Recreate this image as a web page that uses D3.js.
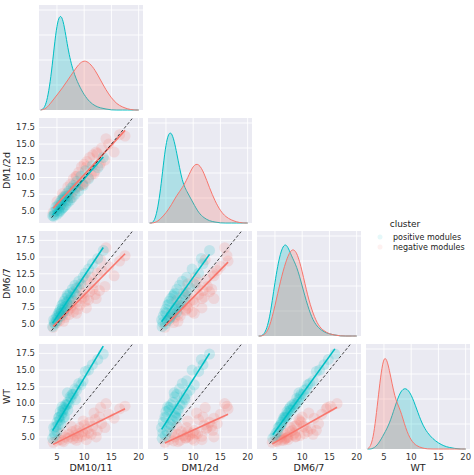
<!DOCTYPE html><html><head><meta charset="utf-8">
<script src="https://cdn.jsdelivr.net/npm/d3@7"></script>
<style>body{margin:0;background:#fff}svg{font-family:"DejaVu Sans",sans-serif}</style></head><body>
<svg id="c" width="474" height="475"></svg>
<script>
const vars=["DM10/11","DM1/2d","DM6/7","WT"];
const clusters=["positive modules","negative modules"];
const colors=["#00BFC4","#F8766D"];
const ticks=[5,10,15,20];
const yticks=[5.0,7.5,10.0,12.5,15.0,17.5];
// points: [DM10/11, DM1/2d, DM6/7, WT]
const positive=[[4.2,4.3,4.6,4.8],[4.5,4.4,5.2,5.6],[4.8,5.6,5.8,6.5],[5.0,4.5,6.2,7.2],[5.2,5.8,6.0,6.8],[5.4,4.8,6.8,8.0],[5.5,6.2,6.5,7.5],[5.6,5.0,7.2,8.8],[5.8,6.6,7.0,8.2],[5.9,5.3,7.8,9.5],[6.0,6.8,7.4,8.6],[6.1,5.5,8.0,9.0],[6.2,7.0,6.8,7.8],[6.3,5.6,8.4,9.4],[6.5,7.2,7.6,9.2],[6.6,5.9,8.8,9.8],[6.8,7.6,8.2,9.8],[7.0,6.3,9.2,10.2],[7.2,8.0,8.6,10.0],[7.4,6.6,9.6,11.0],[7.6,8.4,9.0,10.8],[7.8,7.0,10.2,11.4],[8.0,8.8,9.8,11.4],[8.3,7.5,10.8,12.2],[8.6,9.4,10.4,12.0],[9.0,8.0,11.4,13.0],[9.4,10.2,11.0,12.8],[9.8,8.8,12.0,13.4],[10.2,11.0,12.6,14.8],[10.8,9.8,13.2,15.0],[11.5,11.8,14.0,15.8],[12.5,11.5,14.8,16.6],[5.0,5.2,5.5,5.8],[5.7,5.9,6.2,6.9],[6.4,6.8,7.2,8.0],[4.6,4.9,5.0,5.2],[7.0,7.3,7.8,9.0],[5.3,5.0,6.6,7.9],[8.4,8.5,9.4,10.6],[6.9,6.5,9.4,11.6],[13.5,13.0,16.0,17.4],[4.4,4.2,5.6,6.4]];
const negative=[[4.3,4.8,4.5,4.2],[5.0,6.4,5.2,4.4],[5.5,5.6,5.5,4.6],[6.0,7.6,6.2,4.5],[6.5,6.6,6.0,5.0],[7.0,8.6,7.0,4.8],[7.2,7.2,6.4,5.4],[7.5,9.0,7.4,5.0],[7.8,7.8,7.8,5.8],[8.0,9.8,6.8,4.7],[8.3,8.2,9.6,5.2],[8.5,10.2,8.2,6.0],[8.8,8.6,7.2,4.9],[9.0,10.8,10.4,5.5],[9.2,8.8,7.8,6.4],[9.5,11.6,8.8,5.1],[9.7,9.0,11.0,5.8],[10.0,12.0,9.0,6.8],[10.2,9.4,8.4,5.3],[10.5,12.4,11.6,6.2],[10.8,10.0,8.6,5.6],[11.0,13.0,9.8,7.2],[11.3,10.4,12.0,5.4],[11.6,13.4,10.2,6.6],[12.0,11.0,9.4,7.6],[12.4,13.6,12.6,6.0],[12.8,11.8,10.0,8.0],[13.2,14.4,13.0,7.0],[13.8,12.6,10.6,6.4],[14.5,15.0,13.6,8.4],[15.5,13.8,12.2,7.8],[16.5,16.4,14.4,9.2],[6.2,7.2,5.4,4.3],[9.8,9.0,9.6,7.4],[11.8,10.6,11.2,8.6],[8.6,10.2,6.6,4.5],[7.6,7.0,8.6,6.6],[12.2,13.8,8.8,5.0],[10.4,11.6,7.4,4.6],[5.8,6.0,6.6,5.6],[17.5,16.2,15.2,9.6],[14.0,15.8,16.4,10.0],[13.0,12.2,14.6,9.4]];
// diagonal densities, x = 2..20
const kdeX=[2,3,4,5,6,7,8,9,10,11,12,13,14,15,16,17,18,19,20];
const kdePos=[[0,0.02,0.35,0.92,0.98,0.6,0.38,0.25,0.15,0.08,0.04,0.02,0.01,0,0,0,0,0,0],[0,0,0.3,0.85,0.95,0.7,0.4,0.3,0.2,0.1,0.05,0.02,0.01,0,0,0,0,0,0],[0,0,0.15,0.55,0.85,0.95,0.8,0.7,0.5,0.3,0.15,0.08,0.04,0.02,0.01,0,0,0,0],[0,0,0.05,0.15,0.25,0.42,0.58,0.62,0.55,0.4,0.25,0.16,0.1,0.06,0.03,0.015,0.005,0,0]];
const kdeNeg=[[0,0.01,0.08,0.15,0.22,0.3,0.38,0.46,0.5,0.47,0.4,0.3,0.2,0.12,0.06,0.03,0.01,0,0],[0,0,0.04,0.1,0.18,0.28,0.35,0.45,0.58,0.6,0.5,0.35,0.22,0.12,0.06,0.03,0.01,0,0],[0,0,0.08,0.3,0.55,0.75,0.88,0.85,0.65,0.4,0.22,0.1,0.05,0.02,0.01,0,0,0,0],[0,0.05,0.55,1.0,0.8,0.5,0.4,0.2,0.08,0.03,0.01,0,0,0,0,0,0,0,0]];
const data=[positive,negative];
const svg=d3.select("#c");
const W=104,H=105,x0=39,y0=5,dx=109,dy=113;
const xDom=[1.7,20.8],yDom=[3.2,18.9];
function cell(i,j){return svg.append("g").attr("transform",`translate(${x0+i*dx},${y0+j*dy})`);}
const xs=d3.scaleLinear().domain(xDom).range([0,W]);
const ys=d3.scaleLinear().domain(yDom).range([H,0]);
function bg(g){g.append("rect").attr("width",W).attr("height",H).attr("fill","#eaeaf2");
 g.selectAll(".vx").data(ticks).join("line").attr("x1",d=>xs(d)).attr("x2",d=>xs(d)).attr("y2",H).attr("stroke","#fff").attr("stroke-width",0.9);}
for(let j=0;j<4;j++)for(let i=0;i<=j;i++){
 const g=cell(i,j);bg(g);
 if(i===j){
  const ky=d3.scaleLinear().domain([0,1.05]).range([H,0]);
  [0.25,0.5,0.75,1.0].forEach(v=>g.append("line").attr("x2",W).attr("y1",ky(v)).attr("y2",ky(v)).attr("stroke","#fff").attr("stroke-width",0.9));
  const area=(arr)=>d3.area().x((d,k)=>xs(kdeX[k])).y0(H).y1(d=>ky(d)).curve(d3.curveBasis)(arr);
  const line=(arr)=>d3.line().x((d,k)=>xs(kdeX[k])).y(d=>ky(d)).curve(d3.curveBasis)(arr);
  [[kdePos[i],0],[kdeNeg[i],1]].forEach(([a,c])=>{
   g.append("path").attr("d",area(a)).attr("fill",colors[c]).attr("fill-opacity",0.25);
   g.append("path").attr("d",line(a)).attr("fill","none").attr("stroke",colors[c]).attr("stroke-width",1);});
 } else {
  yticks.forEach(v=>g.append("line").attr("x2",W).attr("y1",ys(v)).attr("y2",ys(v)).attr("stroke","#fff").attr("stroke-width",0.9));
  const cg=g.append("g");
  [1,0].forEach(c=>{cg.selectAll(null).data(data[c]).join("circle").attr("cx",d=>xs(d[i])).attr("cy",d=>ys(d[j])).attr("r",5.5).attr("fill",colors[c]).attr("opacity",0.17);});
  [1,0].forEach(c=>{const pts=data[c];const mx=d3.mean(pts,d=>d[i]),my=d3.mean(pts,d=>d[j]);
   const b=d3.sum(pts,d=>(d[i]-mx)*(d[j]-my))/d3.sum(pts,d=>(d[i]-mx)**2);const a=my-b*mx;
   const [lo,hi]=d3.extent(pts,d=>d[i]);
   g.append("line").attr("x1",xs(lo)).attr("y1",ys(a+b*lo)).attr("x2",xs(hi)).attr("y2",ys(a+b*hi)).attr("stroke",colors[c]).attr("stroke-width",1.6);});
  g.append("line").attr("x1",xs(4)).attr("y1",ys(4)).attr("x2",xs(18.8)).attr("y2",ys(18.8)).attr("stroke","#111").attr("stroke-width",0.8).attr("stroke-dasharray","3,2");
 }
 if(i===0&&j>0){
  yticks.forEach(v=>g.append("text").attr("x",-4).attr("y",ys(v)).attr("dy","0.35em").attr("text-anchor","end").attr("font-size",8.5).attr("fill","#333").text(v.toFixed(1)));
  g.append("text").attr("transform",`translate(-29,${H/2}) rotate(-90)`).attr("text-anchor","middle").attr("font-size",9.5).attr("fill","#222").text(vars[j]);
 }
 if(j===3){
  ticks.forEach(v=>g.append("text").attr("x",xs(v)).attr("y",H+11).attr("text-anchor","middle").attr("font-size",8.5).attr("fill","#333").text(v));
  g.append("text").attr("x",W/2).attr("y",H+22).attr("text-anchor","middle").attr("font-size",9.5).attr("fill","#222").text(vars[i]);
 }
}
const lg=svg.append("g");
lg.append("text").attr("x",405).attr("y",227).attr("text-anchor","middle").attr("font-size",9).attr("fill","#222").text("cluster");
clusters.forEach((c,k)=>{lg.append("circle").attr("cx",380).attr("cy",237+k*10).attr("r",2.5).attr("fill",colors[k]).attr("opacity",0.1);
 lg.append("text").attr("x",393).attr("y",240+k*10).attr("font-size",8).attr("fill","#222").text(c);});
</script></body></html>
